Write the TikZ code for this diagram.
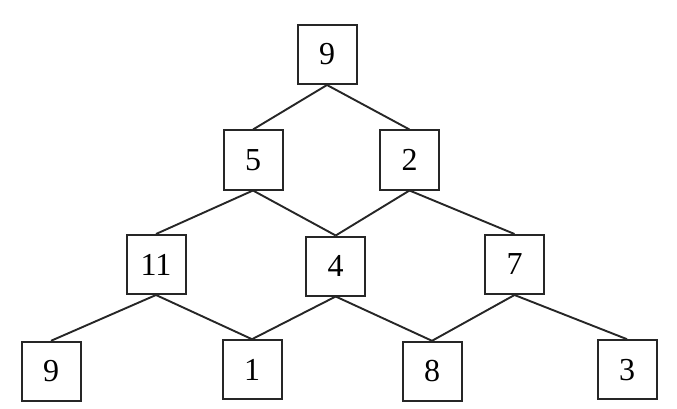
\documentclass[tikz,border=0pt]{standalone}
\usepackage{fontspec}
\setmainfont{Liberation Serif}
\begin{document}
\begin{tikzpicture}[x=1pt,y=-1pt,
  cell/.style={draw=black!85,line width=2pt,minimum width=59pt,minimum height=59pt,inner sep=0pt,font=\fontsize{32}{32}\selectfont},
  link/.style={draw=black!85,line width=1.9pt}]
\useasboundingbox (0,0) rectangle (677,409);
\node[cell] (a) at (327,54.5) {9};
\node[cell] (b) at (253,160) {5};
\node[cell] (c) at (409.5,160) {2};
\node[cell] (d) at (156,264.5) {11};
\node[cell] (e) at (335.7,266) {4};
\node[cell] (f) at (514.5,264.5) {7};
\node[cell] (g) at (51,371.3) {9};
\node[cell] (h) at (252,369.7) {1};
\node[cell] (i) at (432,371.3) {8};
\node[cell] (j) at (627,369.7) {3};
\draw[link] (a.south) -- (b.north);
\draw[link] (a.south) -- (c.north);
\draw[link] (b.south) -- (d.north);
\draw[link] (b.south) -- (e.north);
\draw[link] (c.south) -- (e.north);
\draw[link] (c.south) -- (f.north);
\draw[link] (d.south) -- (g.north);
\draw[link] (d.south) -- (h.north);
\draw[link] (e.south) -- (h.north);
\draw[link] (e.south) -- (i.north);
\draw[link] (f.south) -- (i.north);
\draw[link] (f.south) -- (j.north);
\end{tikzpicture}
\end{document}
